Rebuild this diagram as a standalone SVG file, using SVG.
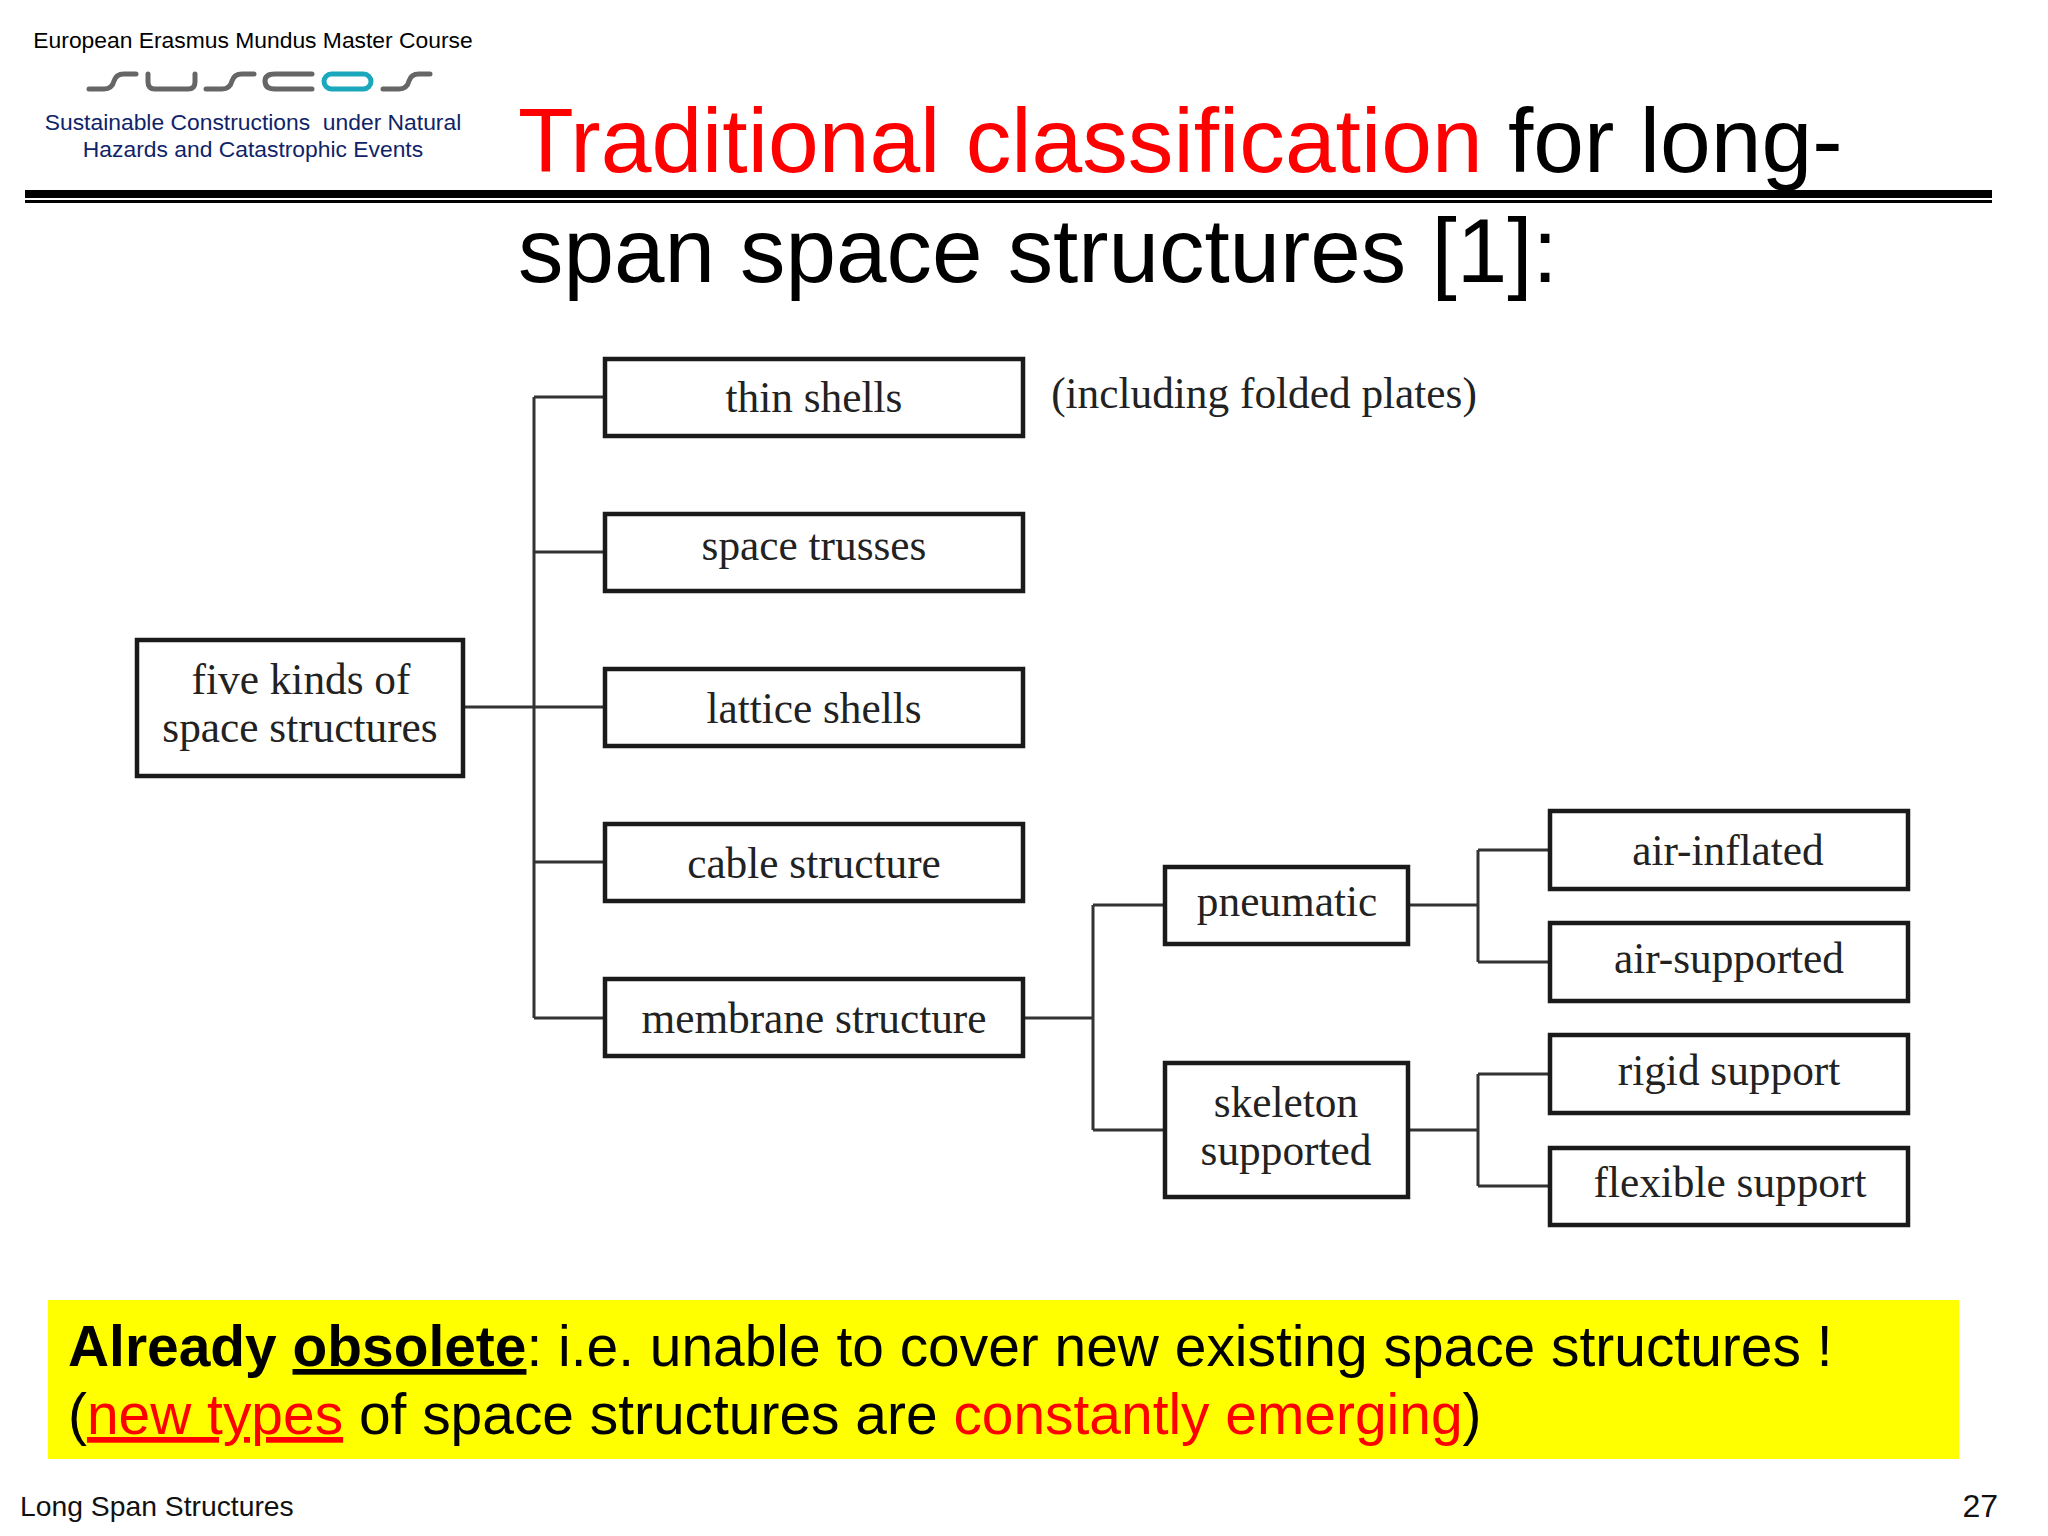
<svg xmlns="http://www.w3.org/2000/svg" width="2048" height="1536" viewBox="0 0 2048 1536">
<style>
.s{font-family:"Liberation Sans",Arial,sans-serif}
.n{fill:#fff;stroke:#1a1a1a;stroke-width:4.5}
.t{font-family:"Liberation Serif","Times New Roman",serif;font-size:43.3px;fill:#222;text-anchor:middle}
.c{fill:none;stroke:#333;stroke-width:3}
.l{fill:none;stroke:#666;stroke-width:5;stroke-linecap:round;stroke-linejoin:round}
.h{font-size:22.85px;text-anchor:middle}
.r{fill:#f00}
</style>
<rect width="2048" height="1536" fill="#fff"/>
<g id="header">
<text class="s h" x="253" y="48" fill="#000">European Erasmus Mundus Master Course</text>
<g id="logo">
<path class="l" d="M89 89H104Q112 89 114 81Q116 74 124 74H136"/>
<path class="l" d="M148 74V82Q148 89 155 89H188Q195 89 195 82V74"/>
<path class="l" d="M206 89H222Q230 89 232 81Q234 74 242 74H254"/>
<path class="l" d="M312 89H275Q265 89 265 81Q265 74 275 74H312"/>
<rect x="324" y="74" width="47" height="15" rx="7.5" fill="none" stroke="#1ba8bc" stroke-width="5"/>
<path class="l" d="M383 89H399Q407 89 409 81Q411 74 419 74H430"/>
</g>
<text class="s h" x="253" y="130" fill="#0f2468" xml:space="preserve">Sustainable Constructions  under Natural</text>
<text class="s h" x="253" y="157" fill="#0f2468">Hazards and Catastrophic Events</text>
<rect x="25" y="190" width="1967" height="8" fill="#000"/>
<rect x="25" y="200" width="1967" height="3" fill="#000"/>
</g>
<g id="title">
<text class="s" x="518" y="172" font-size="91.2"><tspan class="r">Traditional classification</tspan> for long-</text>
<text class="s" x="518" y="282" font-size="90.8">span space structures [1]:</text>
</g>
<g id="connectors">
<path class="c" d="M463 707H604M534 397V1018M534 397H604M534 552H604M534 862H604M534 1018H604"/>
<path class="c" d="M1023 1018H1093M1093 905V1130M1093 905H1164M1093 1130H1164"/>
<path class="c" d="M1408 905H1478M1478 850V962M1478 850H1549M1478 962H1549"/>
<path class="c" d="M1408 1130H1478M1478 1074V1186M1478 1074H1549M1478 1186H1549"/>
</g>
<g id="root"><rect class="n" x="137" y="640" width="326" height="136"/><text class="t" x="301" y="694">five kinds of</text><text class="t" x="300" y="742">space structures</text></g>
<g id="thin-shells"><rect class="n" x="605" y="359" width="418" height="77"/><text class="t" x="814" y="412">thin shells</text></g>
<text class="t" x="1264" y="408">(including folded plates)</text>
<g id="space-trusses"><rect class="n" x="605" y="514" width="418" height="77"/><text class="t" x="814" y="560">space trusses</text></g>
<g id="lattice-shells"><rect class="n" x="605" y="669" width="418" height="77"/><text class="t" x="814" y="723">lattice shells</text></g>
<g id="cable-structure"><rect class="n" x="605" y="824" width="418" height="77"/><text class="t" x="814" y="878">cable structure</text></g>
<g id="membrane-structure"><rect class="n" x="605" y="979" width="418" height="77"/><text class="t" x="814" y="1033">membrane structure</text></g>
<g id="pneumatic"><rect class="n" x="1165" y="867" width="243" height="77"/><text class="t" x="1287" y="916">pneumatic</text></g>
<g id="skeleton-supported"><rect class="n" x="1165" y="1063" width="243" height="134"/><text class="t" x="1286" y="1117">skeleton</text><text class="t" x="1286" y="1165">supported</text></g>
<g id="air-inflated"><rect class="n" x="1550" y="811" width="358" height="78"/><text class="t" x="1728" y="865">air-inflated</text></g>
<g id="air-supported"><rect class="n" x="1550" y="923" width="358" height="78"/><text class="t" x="1729" y="973">air-supported</text></g>
<g id="rigid-support"><rect class="n" x="1550" y="1035" width="358" height="78"/><text class="t" x="1729" y="1085">rigid support</text></g>
<g id="flexible-support"><rect class="n" x="1550" y="1148" width="358" height="77"/><text class="t" x="1730" y="1197">flexible support</text></g>
<g id="note">
<rect x="48" y="1300" width="1911" height="159" fill="#ff0"/>
<text class="s" x="68" y="1366" font-size="56.9" fill="#000"><tspan font-weight="700">Already <tspan text-decoration="underline">obsolete</tspan></tspan>: i.e. unable to cover new existing space structures !</text>
<text class="s" x="68" y="1434" font-size="56.9" fill="#000">(<tspan class="r" text-decoration="underline">new types</tspan> of space structures are <tspan class="r">constantly emerging</tspan>)</text>
</g>
<g id="footer">
<text class="s" x="20" y="1516" font-size="28.3" fill="#111">Long Span Structures</text>
<text class="s" x="1998" y="1517" font-size="32" fill="#111" text-anchor="end">27</text>
</g>
</svg>
